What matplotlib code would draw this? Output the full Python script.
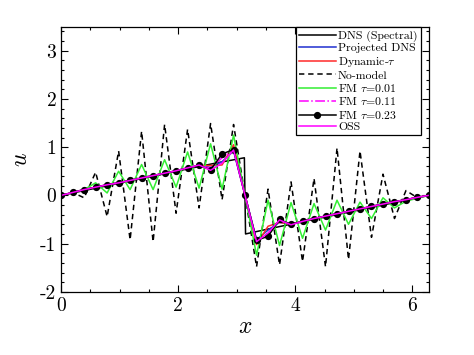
#Imports
import numpy as np
import matplotlib
matplotlib.use('Agg')
import matplotlib.pyplot as plt
from matplotlib.ticker import MultipleLocator

#Fonts: Computer Modern look
plt.rcParams['font.family'] = 'serif'
plt.rcParams['font.serif'] = ['cmr10']
plt.rcParams['mathtext.fontset'] = 'cm'
plt.rcParams['axes.unicode_minus'] = False

# grid points x_j = 2*pi*j/32, j = 0..32
x_grid = np.linspace(0, 2*np.pi, 33)

# DNS (spectral) breakpoints
x_dns = [0.0, 2.60, 3.13, 3.15, 3.68, 2*np.pi]
u_dns = [0.0, 0.66, 0.78, -0.80, -0.66, 0.0]

u_proj = [0.0, 0.06, 0.12, 0.17, 0.22, 0.26, 0.31, 0.36, 0.41, 0.46, 0.51, 0.57, 0.62,
          0.58, 0.70, 0.92, 0.0, -0.92, -0.72, -0.56,
          -0.60, -0.54, -0.48, -0.43, -0.38, -0.33, -0.28, -0.23, -0.18, -0.13, -0.09, -0.04, 0.0]

u_dyn = [0.0, 0.06, 0.12, 0.17, 0.22, 0.26, 0.31, 0.36, 0.41, 0.46, 0.51, 0.57, 0.62,
         0.62, 0.63, 1.05, 0.0, -1.02, -0.64, -0.56,
         -0.60, -0.54, -0.48, -0.43, -0.38, -0.33, -0.28, -0.23, -0.18, -0.13, -0.09, -0.04, 0.0]

u_nomodel = [0.0, 0.06, -0.05, 0.48, -0.44, 0.92, -0.92, 1.33, -0.96, 1.47, -0.37, 1.37, -0.26,
             1.49, -0.09, 1.47, 0.0, -1.48, 0.13, -1.44, 0.28, -1.37, 0.35, -1.48,
             0.98, -1.33, 0.92, -0.87, 0.44, -0.48, 0.10, -0.05, 0.0]

u_fm001 = [0.0, 0.06, 0.12, 0.26, 0.05, 0.50, 0.12, 0.64, 0.12, 0.74, 0.17, 0.90, 0.15,
           1.07, 0.13, 1.25, 0.0, -1.24, -0.10, -1.04, -0.15, -0.89, -0.17, -0.72,
           -0.10, -0.60, -0.14, -0.48, -0.05, -0.26, -0.12, -0.06, 0.0]

u_fm011 = [0.0, 0.06, 0.12, 0.17, 0.22, 0.26, 0.31, 0.36, 0.41, 0.46, 0.51, 0.57, 0.62,
           0.56, 0.78, 0.95, 0.0, -0.94, -0.80, -0.52,
           -0.60, -0.54, -0.48, -0.43, -0.38, -0.33, -0.28, -0.23, -0.18, -0.13, -0.09, -0.04, 0.0]

u_fm023 = [0.0, 0.06, 0.12, 0.17, 0.22, 0.26, 0.31, 0.36, 0.41, 0.46, 0.51, 0.57, 0.62,
           0.53, 0.86, 0.95, 0.0, -0.93, -0.85, -0.50,
           -0.60, -0.54, -0.48, -0.43, -0.38, -0.33, -0.28, -0.23, -0.18, -0.13, -0.09, -0.04, 0.0]

u_oss = [0.0, 0.06, 0.12, 0.17, 0.22, 0.26, 0.31, 0.36, 0.41, 0.46, 0.51, 0.57, 0.63,
         0.52, 0.67, 0.94, 0.0, -0.96, -0.78, -0.51,
         -0.61, -0.54, -0.48, -0.43, -0.38, -0.33, -0.28, -0.23, -0.18, -0.13, -0.09, -0.04, 0.0]

#Plot
fig = plt.figure(figsize=(4.74, 3.55), dpi=100)
ax = fig.add_axes([0.129, 0.178, 0.776, 0.747])

lw = 1.1
ax.plot(x_dns, u_dns, color='black', lw=lw, label='DNS (Spectral)')
ax.plot(x_grid, u_proj, color='#1f2fd0', lw=lw, label='Projected DNS')
ax.plot(x_grid, u_dyn, color='#ff2a2a', lw=lw, label=r'Dynamic-$\tau$')
ax.plot(x_grid, u_nomodel, color='black', lw=lw, ls=(0, (3.5, 2.5)), label='No-model')
ax.plot(x_grid, u_fm001, color='#33ee33', lw=lw, label=r'FM $\tau$=0.01')
ax.plot(x_grid, u_fm011, color='#ff00ff', lw=lw, ls='-.', label=r'FM $\tau$=0.11')
ax.plot(x_grid, u_fm023, color='black', lw=lw, marker='o', ms=4.2, label=r'FM $\tau$=0.23')
ax.plot(x_grid, u_oss, color='#ff00ff', lw=lw, label='OSS')

ax.set_xlim(0, 2*np.pi)
ax.set_ylim(-2, 3.5)
ax.xaxis.set_major_locator(MultipleLocator(2))
ax.xaxis.set_minor_locator(MultipleLocator(0.5))
ax.yaxis.set_major_locator(MultipleLocator(1))
ax.yaxis.set_minor_locator(MultipleLocator(0.2))
ax.tick_params(which='both', direction='in', top=True, right=True, labelsize=14, width=0.8)
ax.tick_params(which='major', length=5)
ax.tick_params(which='minor', length=2.5)
for s in ax.spines.values():
    s.set_linewidth(0.9)

ax.set_xlabel(r'$x$', fontsize=17, labelpad=1)
ax.set_ylabel(r'$u$', fontsize=17, labelpad=6)

leg = ax.legend(loc='upper right', bbox_to_anchor=(0.977, 0.997), borderaxespad=0,
                fontsize=8.5, fancybox=False, edgecolor='black', framealpha=1,
                labelspacing=0.12, borderpad=0.25, handlelength=3.1, handletextpad=0.2)
leg.get_frame().set_linewidth(0.9)

fig.savefig('out.png', dpi=100)
